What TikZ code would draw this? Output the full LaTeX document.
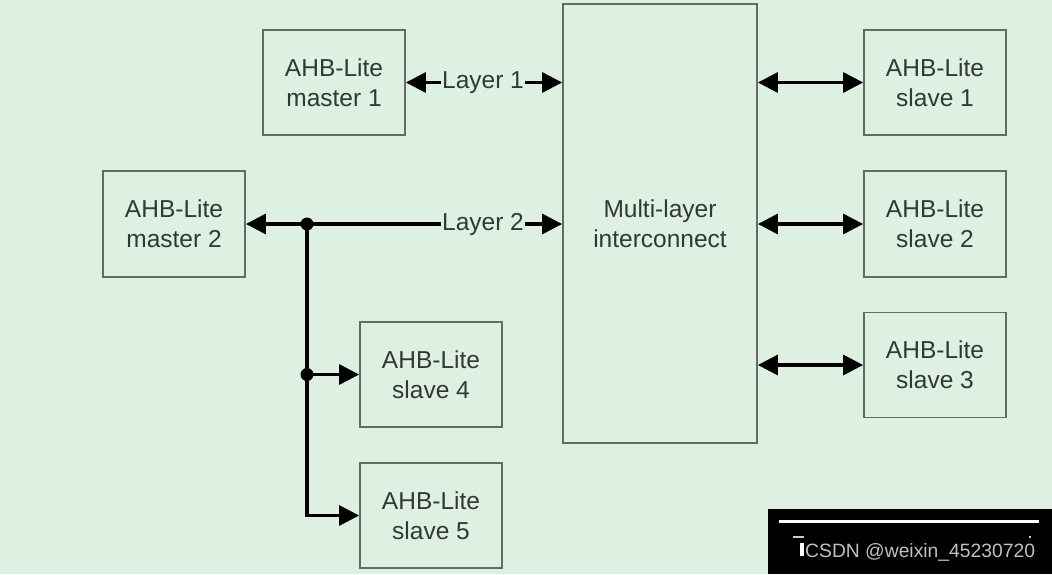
\documentclass[tikz,border=0pt]{standalone}
\usepackage{fontspec}
\setmainfont{Liberation Sans}
\usetikzlibrary{arrows.meta,positioning}
\definecolor{bg}{RGB}{221,240,225}
\definecolor{boxline}{RGB}{95,110,99}
\definecolor{txt}{RGB}{50,56,52}
\definecolor{wm}{RGB}{190,194,191}
\tikzset{
  blk/.style={draw=boxline,line width=1.8pt,fill=bg,inner sep=0pt,text=txt,
    align=center,font=\fontsize{24.5}{30}\selectfont},
  conn/.style={line width=3.2pt,black},
  tip/.style={-{Triangle[length=20pt,width=20pt]}},
  tips/.style={{Triangle[length=20pt,width=20pt]}-{Triangle[length=20pt,width=20pt]}},
  lbl/.style={fill=bg,inner sep=1pt,text=txt,font=\fontsize{24.5}{30}\selectfont},
  jdot/.style={circle,fill=black,inner sep=0pt,minimum size=13pt}
}
\begin{document}
\begin{tikzpicture}[x=1pt,y=-1pt]
\fill[bg] (0,0) rectangle (1052,574);
\useasboundingbox (0,0) rectangle (1052,574);
% blocks
\node[blk,minimum width=142pt,minimum height=105pt] (m1) at (334,82.5) {AHB-Lite\\master 1};
\node[blk,minimum width=142pt,minimum height=106pt] (m2) at (174,224) {AHB-Lite\\master 2};
\node[blk,minimum width=142pt,minimum height=105pt] (s4) at (431,374.5) {AHB-Lite\\slave 4};
\node[blk,minimum width=142pt,minimum height=105pt] (s5) at (431,515.5) {AHB-Lite\\slave 5};
\node[blk,minimum width=194pt,minimum height=439pt] (ic) at (660,223.5) {Multi-layer\\interconnect};
\node[blk,minimum width=142pt,minimum height=105pt] (s1) at (935,82.5) {AHB-Lite\\slave 1};
\node[blk,minimum width=142pt,minimum height=106pt] (s2) at (935,224) {AHB-Lite\\slave 2};
\node[blk,minimum width=142pt,minimum height=105pt] (s3) at (935,365) {AHB-Lite\\slave 3};
% layer 1
\draw[conn,tips] (m1.east) -- (m1.east -| ic.west);
\node[lbl] (l1) at (483,82.5) {Layer 1};
% layer 2
\draw[conn,tips] (m2.east) -- (m2.east -| ic.west);
\node[lbl] (l2) at (483,224) {Layer 2};
\coordinate (j1) at (307,224);
\coordinate (j2) at (307,374.5);
\draw[conn,tip] (j1) -- (j1 |- s5.west) -- (s5.west);
\draw[conn,tip] (j2) -- (s4.west);
\node[jdot] (d1) at (j1) {};
\node[jdot] (d2) at (j2) {};
% slaves
\draw[conn,tips] (ic.east |- s1.west) -- (s1.west);
\draw[conn,tips] (ic.east |- s2.west) -- (s2.west);
\draw[conn,tips] (ic.east |- s3.west) -- (s3.west);
% watermark
\fill[black] (768,509) rectangle (1052,574);
\draw[white!90!bg,line width=3pt] (779,521) -- (1039,521);
\draw[white!80!black,line width=1.2pt] (793,537) -- (804,537);
\fill[white!80!black] (1029,536) rectangle (1031,538);
\fill[white!85!bg] (800,543) rectangle (804,556);
\node[anchor=west,inner sep=0pt,text=wm,font=\fontsize{19.3}{22}\selectfont] (wmt) at (805,552) {CSDN @weixin\_45230720};
\end{tikzpicture}
\end{document}
